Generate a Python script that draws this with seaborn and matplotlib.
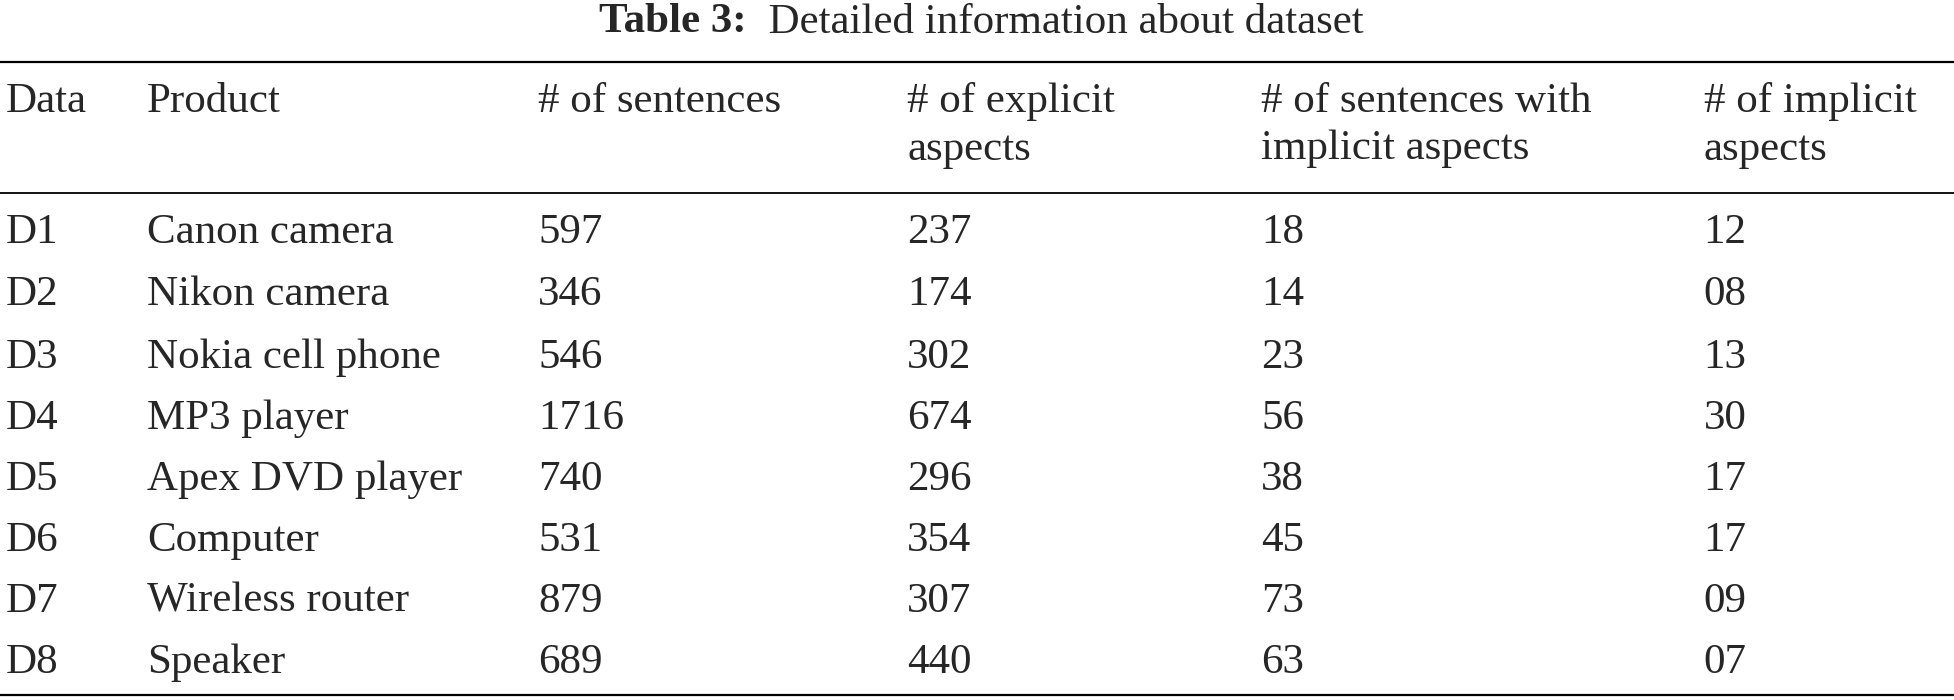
import matplotlib.pyplot as plt
import seaborn as sns

sns.set_theme(style='white')
plt.rcParams['font.family'] = ['Liberation Serif', 'DejaVu Serif']

# Table contents
title_bold = 'Table 3:'
title_rest = '  Detailed information about dataset'
headers = ['Data', 'Product', '# of sentences', '# of explicit\naspects',
           '# of sentences with\nimplicit aspects', '# of implicit\naspects']
data_ids = ['D1', 'D2', 'D3', 'D4', 'D5', 'D6', 'D7', 'D8']
products = ['Canon camera', 'Nikon camera', 'Nokia cell phone', 'MP3 player',
            'Apex DVD player', 'Computer', 'Wireless router', 'Speaker']
n_sentences = ['597', '346', '546', '1716', '740', '531', '879', '689']
n_explicit = ['237', '174', '302', '674', '296', '354', '307', '440']
n_sent_implicit = ['18', '14', '23', '56', '38', '45', '73', '63']
n_implicit = ['12', '08', '13', '30', '17', '17', '09', '07']

W, H = 1568, 562
col_x = [5, 118, 432, 728, 1012, 1367]
row_y = [187, 237, 287, 336, 385, 434, 483, 532]
fs = 31

fig = plt.figure(figsize=(19.54, 7), dpi=100)
fig.patch.set_facecolor('white')

def fx(x):
    return x / W

def fy(y):
    return 1 - y / H

# title
t = fig.text(0.5, fy(18), title_bold + title_rest, ha='center', va='center',
             fontsize=fs, alpha=0)
fig.canvas.draw()
bb = t.get_window_extent()
x0 = bb.x0 / fig.bbox.width
tb = fig.text(x0, fy(18), title_bold, ha='left', va='center', fontsize=fs,
              fontweight='bold')
bb2 = tb.get_window_extent()
fig.text(bb2.x1 / fig.bbox.width, fy(18), title_rest, ha='left', va='center',
         fontsize=fs)

# rules
for y, lw in [(50, 1.6), (155, 1.3), (558, 1.6)]:
    fig.add_artist(plt.Line2D([0, 1], [fy(y), fy(y)], color='black', lw=lw,
                              transform=fig.transFigure))

# header
for x, h in zip(col_x, headers):
    fig.text(fx(x), fy(66), h, ha='left', va='top', fontsize=fs,
             linespacing=1.3)

cols = [data_ids, products, n_sentences, n_explicit, n_sent_implicit, n_implicit]
for x, col in zip(col_x, cols):
    for y, v in zip(row_y, col):
        fig.text(fx(x), fy(y), v, ha='left', va='center', fontsize=fs)

fig.savefig('out.png', dpi=100, facecolor='white')
